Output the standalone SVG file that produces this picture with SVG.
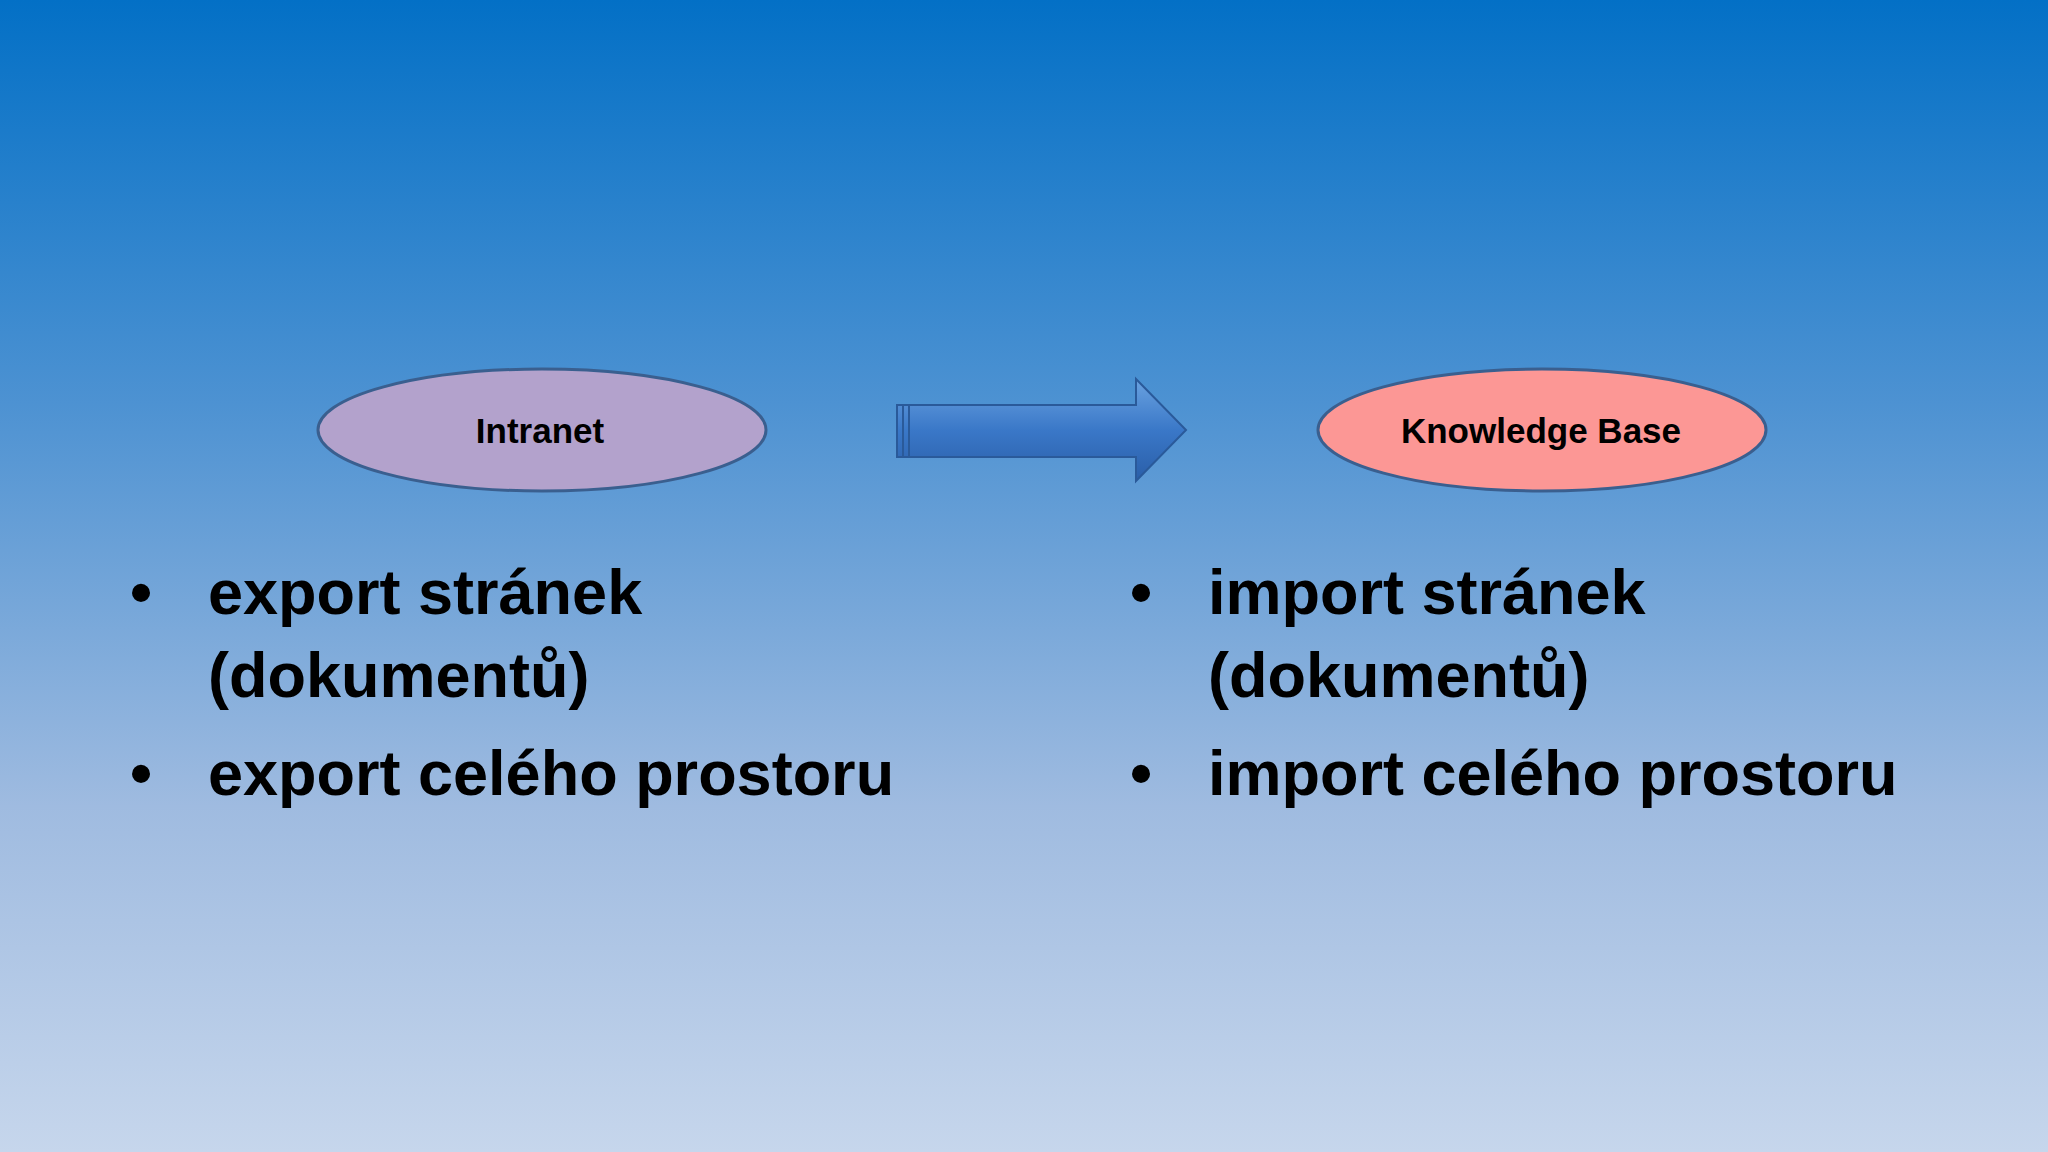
<svg xmlns="http://www.w3.org/2000/svg" width="2048" height="1152" viewBox="0 0 2048 1152">
<defs>
<linearGradient id="bg" x1="0" y1="0" x2="0" y2="1">
<stop offset="0" stop-color="#0370c6"/>
<stop offset="0.35" stop-color="#4d92d2"/>
<stop offset="0.7" stop-color="#9fbbe0"/>
<stop offset="1" stop-color="#c6d6ec"/>
</linearGradient>
<linearGradient id="ar" x1="0" y1="0" x2="0" y2="1">
<stop offset="0" stop-color="#6aa2e0"/>
<stop offset="0.5" stop-color="#3a78c8"/>
<stop offset="1" stop-color="#2a5ea8"/>
</linearGradient>
<style>
.lbl{font-family:"Liberation Sans",Arial,sans-serif;font-weight:bold;font-size:35px;fill:#000;text-anchor:middle}
.bt{font-family:"Liberation Sans",Arial,sans-serif;font-weight:bold;font-size:63px;fill:#000}
.node{stroke:#3a5f8f;stroke-width:3}
</style>
</defs>
<rect width="2048" height="1152" fill="url(#bg)"/>
<g id="intranet"><ellipse class="node" cx="542" cy="430" rx="224" ry="61" fill="#b3a2cc"/><text class="lbl" x="540" y="443">Intranet</text></g>
<g id="kb"><ellipse class="node" cx="1542" cy="430" rx="224" ry="61" fill="#fc9795"/><text class="lbl" x="1541" y="443">Knowledge Base</text></g>
<g id="connectors">
<path d="M897 405 H1136 V379 L1186 430 L1136 481 V457 H897 Z" fill="url(#ar)" stroke="#2a5a9a" stroke-width="2"/>
<path d="M903 405 V457 M909 405 V457" stroke="#2a5a9a" stroke-width="2"/>
</g>
<g id="left">
<text class="bt" x="130" y="614">•</text><text class="bt" x="208" y="614">export stránek</text>
<text class="bt" x="208" y="697">(dokumentů)</text>
<text class="bt" x="130" y="795">•</text><text class="bt" x="208" y="795">export celého prostoru</text>
</g>
<g id="right">
<text class="bt" x="1130" y="614">•</text><text class="bt" x="1208" y="614">import stránek</text>
<text class="bt" x="1208" y="697">(dokumentů)</text>
<text class="bt" x="1130" y="795">•</text><text class="bt" x="1208" y="795">import celého prostoru</text>
</g>
</svg>
